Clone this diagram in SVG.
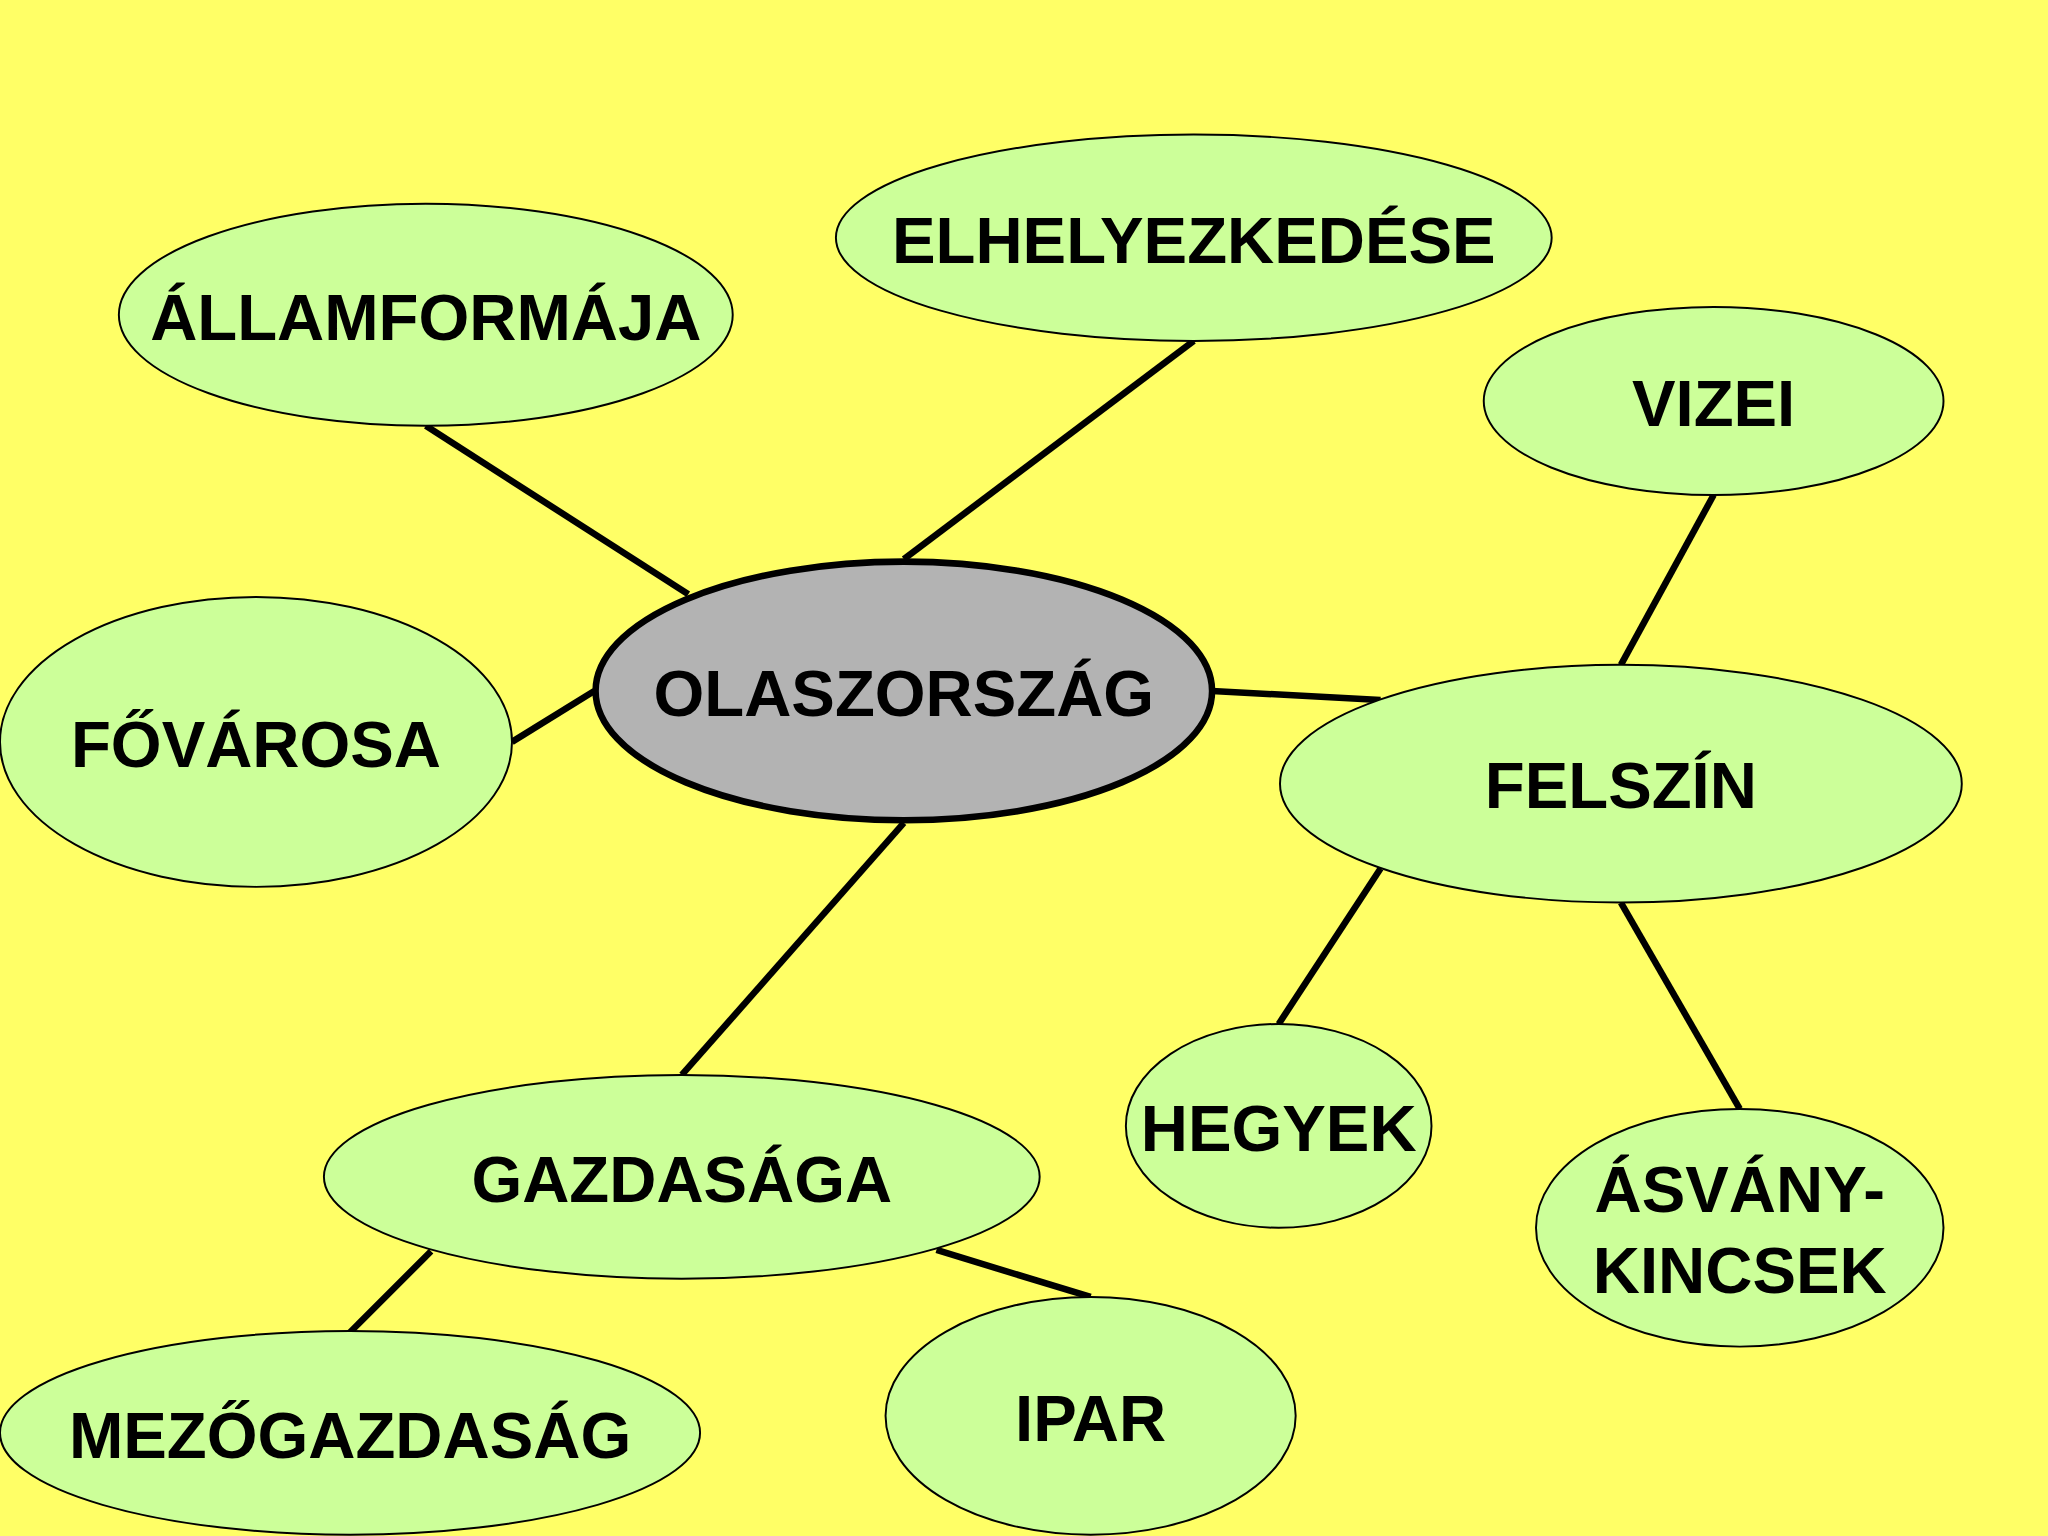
<svg xmlns="http://www.w3.org/2000/svg" width="2048" height="1536" viewBox="0 0 2048 1536">
<style>
.n{fill:#ccff99;stroke:#000;stroke-width:1.5}
.c{fill:#b3b3b3;stroke:#000;stroke-width:5}
text{font-family:"Liberation Sans",Arial,sans-serif;font-weight:bold;font-size:50px;text-anchor:middle;fill:#000}
.e line{stroke:#000;stroke-width:5}
</style>
<rect width="2048" height="1536" fill="#ffff66"/>
<g transform="scale(1.30612)">
<g class="e" id="connectors">
<line x1="326" y1="326" x2="527" y2="455"/>
<line x1="914" y1="261" x2="692" y2="428"/>
<line x1="392" y1="568" x2="455" y2="529"/>
<line x1="928" y1="529" x2="1057" y2="536"/>
<line x1="1312" y1="379" x2="1241" y2="509"/>
<line x1="1057" y1="665" x2="979" y2="784"/>
<line x1="1241" y1="691" x2="1332" y2="849"/>
<line x1="692" y1="630" x2="522" y2="823"/>
<line x1="330" y1="958" x2="268" y2="1020"/>
<line x1="717" y1="957" x2="835" y2="993"/>
</g>
<g id="allam"><ellipse class="n" cx="326" cy="241" rx="235" ry="85"/><text x="326" y="260">ÁLLAMFORMÁJA</text></g>
<g id="elhely"><ellipse class="n" cx="914" cy="182" rx="274" ry="79"/><text x="914" y="201">ELHELYEZKEDÉSE</text></g>
<g id="vizei"><ellipse class="n" cx="1312" cy="307" rx="176" ry="72"/><text x="1312" y="326">VIZEI</text></g>
<g id="fovaros"><ellipse class="n" cx="196" cy="568" rx="196" ry="111"/><text x="196" y="587">FŐVÁROSA</text></g>
<g id="olasz"><ellipse class="c" cx="692" cy="529" rx="236" ry="99"/><text x="692" y="548">OLASZORSZÁG</text></g>
<g id="felszin"><ellipse class="n" cx="1241" cy="600" rx="261" ry="91"/><text x="1241" y="619">FELSZÍN</text></g>
<g id="hegyek"><ellipse class="n" cx="979" cy="862" rx="117" ry="78"/><text x="979" y="881">HEGYEK</text></g>
<g id="asvany"><ellipse class="n" cx="1332" cy="940" rx="156" ry="91"/><text x="1332" y="928">ÁSVÁNY-</text><text x="1332" y="990">KINCSEK</text></g>
<g id="gazd"><ellipse class="n" cx="522" cy="901" rx="274" ry="78"/><text x="522" y="920">GAZDASÁGA</text></g>
<g id="mezo"><ellipse class="n" cx="268" cy="1097" rx="268" ry="78"/><text x="268" y="1116">MEZŐGAZDASÁG</text></g>
<g id="ipar"><ellipse class="n" cx="835" cy="1084" rx="157" ry="91"/><text x="835" y="1103">IPAR</text></g>
</g>
</svg>
